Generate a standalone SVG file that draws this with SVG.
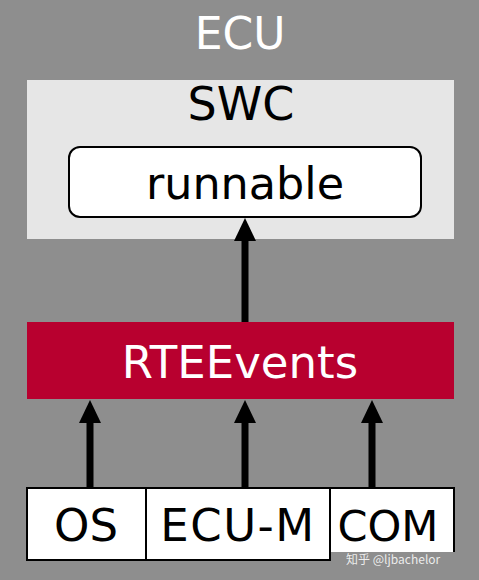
<svg xmlns="http://www.w3.org/2000/svg" width="479" height="580" viewBox="0 0 479 580">
<style>
.t{font-family:"DejaVu Sans","Noto Sans CJK SC",sans-serif;text-anchor:middle}
.box{fill:#ffffff;stroke:#000000;stroke-width:2}
.conn{stroke:#000000;stroke-width:7;fill:none}
.head{fill:#000000}
</style>
<rect x="0" y="0" width="479" height="580" fill="#8e8e8e"/>
<g id="ecu">
<text class="t" x="240" y="49" font-size="44" fill="#ffffff">ECU</text>
</g>
<g id="swc">
<rect x="27" y="80" width="427" height="159" fill="#e6e6e6"/>
<text class="t" x="241" y="120" font-size="46" fill="#000">SWC</text>
</g>
<g id="runnable">
<rect class="box" x="69" y="147" width="352" height="70" rx="11" stroke-width="1.5"/>
<text class="t" x="245" y="199" font-size="44.5" fill="#000">runnable</text>
</g>
<g id="rteevents">
<rect x="27" y="322" width="427" height="77" fill="#b8002f"/>
<text class="t" x="240" y="378" font-size="45" fill="#ffffff">RTEEvents</text>
</g>
<g id="os">
<rect class="box" x="27" y="488" width="119" height="72"/>
<text class="t" x="86" y="541" font-size="45" fill="#000">OS</text>
</g>
<g id="ecum">
<rect class="box" x="146" y="488" width="184" height="72"/>
<text class="t" x="238" y="541" font-size="45" fill="#000" letter-spacing="1.5">ECU-M</text>
</g>
<g id="com">
<rect class="box" x="330" y="488" width="124" height="72"/>
<text class="t" x="388" y="541" font-size="43" fill="#000">COM</text>
</g>
<g id="connectors">
<line class="conn" x1="245" y1="322" x2="245" y2="236"/>
<polygon class="head" points="245,218 234,241 256,241"/>
<line class="conn" x1="90" y1="488" x2="90" y2="418"/>
<polygon class="head" points="90,400 79,423 101,423"/>
<line class="conn" x1="245" y1="488" x2="245" y2="418"/>
<polygon class="head" points="245,400 234,423 256,423"/>
<line class="conn" x1="372" y1="488" x2="372" y2="418"/>
<polygon class="head" points="372,400 361,423 383,423"/>
</g>
<rect x="331" y="552" width="135" height="14" fill="#8e8e8e"/>
<text x="346" y="564" font-family="'Noto Sans CJK SC','DejaVu Sans',sans-serif" font-size="12" fill="#ffffff" fill-opacity="0.85">知乎 @ljbachelor</text>
</svg>
